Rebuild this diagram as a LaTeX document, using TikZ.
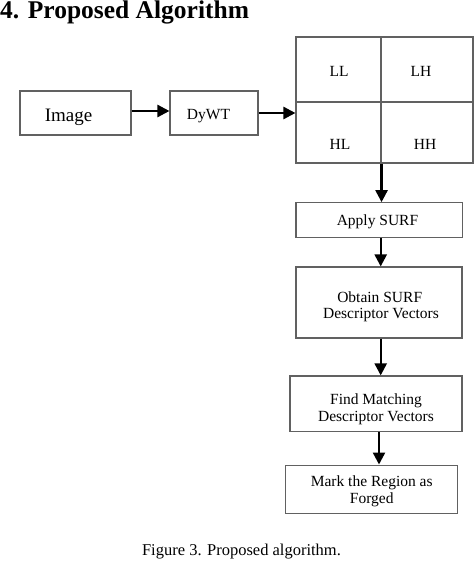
\documentclass[tikz,border=0pt]{standalone}
\usepackage{fontspec}
\setmainfont{Liberation Serif}
\usetikzlibrary{arrows.meta,calc}
\begin{document}
\begin{tikzpicture}[x=1pt,y=-1pt,
  box/.style={draw=black!62,line width=1.1pt,inner sep=0pt},
  lbl/.style={anchor=base,inner sep=0pt,font=\fontsize{15.5}{16.5}\selectfont},
  arr/.style={line width=2.4pt,-{Triangle[length=12pt,width=12pt]}}]
\useasboundingbox (0,0) rectangle (474,562);
\node[anchor=base west,inner sep=0pt,font=\bfseries\fontsize{25.5}{28}\selectfont] (title) at (0,19) {4. Proposed Algorithm};
% boxes
\node[box,minimum width=111pt,minimum height=44pt] (img) at (75.5,113) {};
\node[box,minimum width=88pt,minimum height=44pt] (dywt) at (214,113) {};
\node[box,minimum width=85pt,minimum height=65pt] (LL) at (338.5,69.5) {};
\node[box,minimum width=92pt,minimum height=65pt] (LH) at (427,69.5) {};
\node[box,minimum width=85pt,minimum height=61pt] (HL) at (338.5,132.5) {};
\node[box,minimum width=92pt,minimum height=61pt] (HH) at (427,132.5) {};
\node[box,minimum width=166.7pt,minimum height=34.6pt] (apply) at (379.3,220) {};
\node[box,minimum width=166pt,minimum height=71pt] (obtain) at (379,302.5) {};
\node[box,minimum width=172pt,minimum height=55.7pt] (find) at (376,403.8) {};
\node[box,minimum width=172pt,minimum height=48.3pt] (mark) at (371.7,489.2) {};
% labels
\node[lbl,font=\fontsize{19}{21}\selectfont] (timg) at (68.5,121.5) {Image};
\node[lbl] (tdywt) at (208.5,119.3) {DyWT};
\node[lbl] (tLL) at (339,76.7) {LL};
\node[lbl] (tLH) at (421,76.7) {LH};
\node[lbl] (tHL) at (340,149) {HL};
\node[lbl] (tHH) at (425,149) {HH};
\node[lbl] (tapply) at (377.5,225.7) {Apply SURF};
\node[lbl] (to1) at (379.7,302.7) {Obtain SURF};
\node[lbl] (to2) at (381,318.5) {Descriptor Vectors};
\node[lbl] (tf1) at (376,404.5) {Find Matching};
\node[lbl] (tf2) at (376,421.7) {Descriptor Vectors};
\node[lbl] (tm1) at (371.7,486.7) {Mark the Region as};
\node[lbl] (tm2) at (371.7,503.3) {Forged};
\node[anchor=base,inner sep=0pt,font=\fontsize{16.5}{18}\selectfont] (cap) at (241.5,555) {Figure 3. Proposed algorithm.};
% arrows
\draw[arr] ([yshift=2pt]img.east) -- ([yshift=2pt]dywt.west);
\draw[arr] (dywt.east) -- (dywt.east -| LL.west);
\draw[arr] (HL.south east) -- (HL.south east |- apply.north);
\draw[arr] ([xshift=1.4pt]apply.south) -- ([xshift=1.4pt]apply.south |- obtain.north);
\draw[arr] ([xshift=1.7pt]obtain.south) -- ([xshift=1.7pt]obtain.south |- find.north);
\draw[arr] ([xshift=3pt]find.south) -- ([xshift=3pt]find.south |- mark.north);
\end{tikzpicture}
\end{document}
